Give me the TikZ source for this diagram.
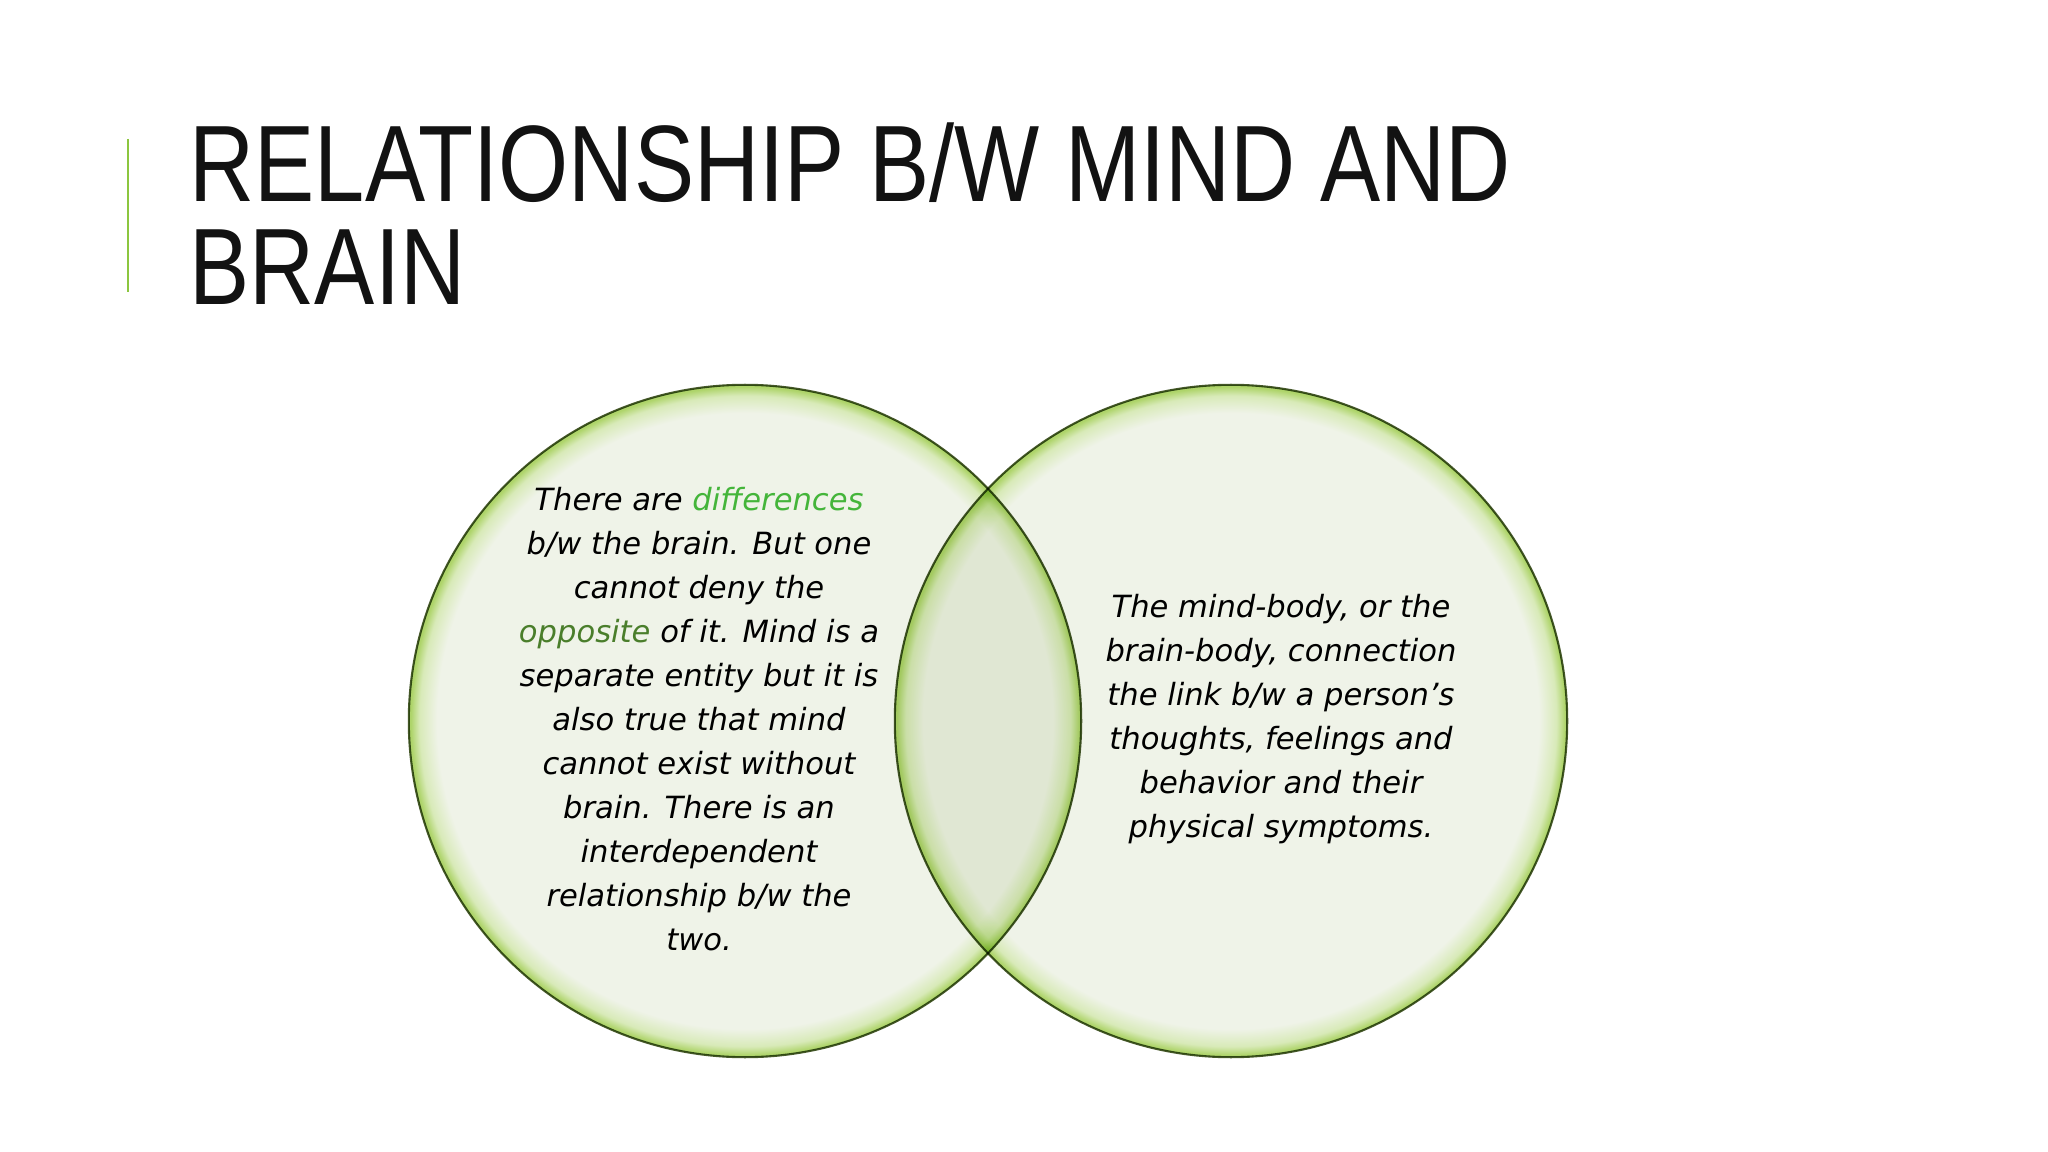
\documentclass[tikz,border=0pt]{standalone}
\usepackage{fontspec}
\setmainfont{DejaVu Sans}
\newfontfamily\titlefont[FakeStretch=0.83]{Liberation Sans}
\newfontfamily\vennfont{DejaVu Sans}
\usepackage{tikz}
\usetikzlibrary{positioning}

\definecolor{barGreen}{HTML}{8CC63F}
\definecolor{titleInk}{HTML}{121212}
\definecolor{vennIn}{HTML}{EFF3E8}
\definecolor{vennMid}{HTML}{D8EAB8}
\definecolor{vennRim}{HTML}{AED46A}
\definecolor{vennLine}{HTML}{46582A}
\definecolor{diffGreen}{HTML}{44B53A}
\definecolor{oppGreen}{HTML}{4A7E2B}

\pgfdeclareradialshading{vennshade}{\pgfpoint{0bp}{0bp}}{color(0bp)=(vennIn);color(22.9bp)=(vennIn);color(24.2bp)=(vennMid);color(24.85bp)=(vennRim);color(25bp)=(vennRim);color(50bp)=(vennRim)}

\begin{document}
\begin{tikzpicture}[x=0.01cm, y=-0.01cm, titletext/.style={font=\titlefont\fontsize{30.9}{29}\selectfont, text=titleInk, inner sep=0pt}, vennball/.style={circle, minimum size=6.72cm, inner sep=0pt, shade, shading=vennshade, draw=vennLine, line width=0.6pt}, venntext/.style={font=\vennfont\itshape\fontsize{8.7}{12.5}\selectfont, align=center, inner sep=0pt}, accentbar/.style={barGreen, line width=0.85pt}]

    \fill[white] (0,0) rectangle (2048,1152);
    \useasboundingbox (0,0) rectangle (2048,1152);

    %Title
    \coordinate (barTop) at (128,139);
    \coordinate (barBot) at (128,292);
    \draw[accentbar] (barTop) -- (barBot);
    \node[titletext, anchor=base west](title) at (189,202){RELATIONSHIP B/W MIND AND};
    \node[titletext, anchor=base west](title2) at ([yshift=-1.02cm]title.base west){BRAIN};

    %Circles
    \begin{scope}[blend group=multiply]
    \node[vennball](mind) at (745,721){};
    \node[vennball](brain) at (1231,721){};
    \end{scope}

    %Texts
    \node[venntext](mindtext) at (699,719){There are \textcolor{diffGreen}{differences}\\b/w the brain. But one\\cannot deny the\\\textcolor{oppGreen}{opposite} of it. Mind is a\\separate entity but it is\\also true that mind\\cannot exist without\\brain. There is an\\interdependent\\relationship b/w the\\two.};
    \node[venntext](braintext) at (1281,719){The mind-body, or the\\brain-body, connection\\the link b/w a person’s\\thoughts, feelings and\\behavior and their\\physical symptoms.};

\end{tikzpicture}
\end{document}
